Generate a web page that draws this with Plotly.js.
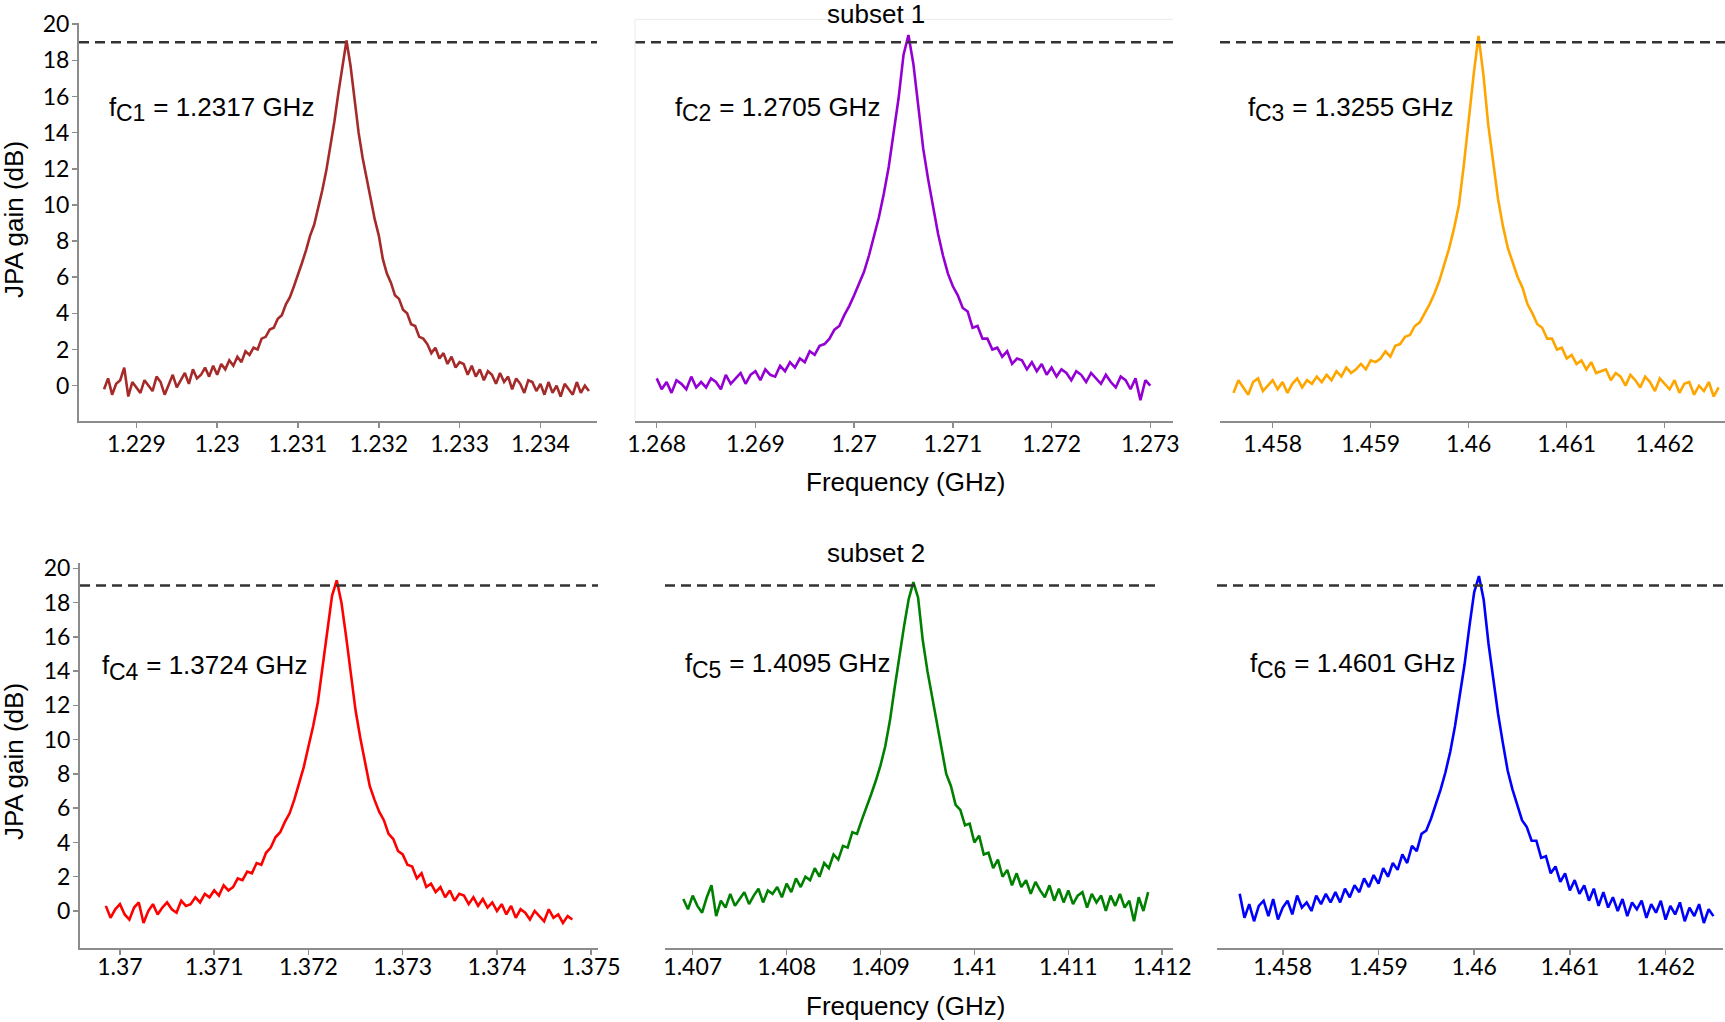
<!DOCTYPE html>
<html>
<head>
<meta charset="utf-8">
<script src="https://cdn.plot.ly/plotly-3.0.1.min.js"></script>
<style>
  html, body { margin: 0; padding: 0; background: #ffffff; }
  #chart { width: 1725px; height: 1022px; }
</style>
</head>
<body>
<div id="chart"></div>
<script>
// JPA gain sweeps (dB), one array per channel, sampled every 50 kHz
const sweepStep = 0.00005;                       // GHz
const sweepStart = [1.2286, 1.268, 1.4576, 1.36985, 1.4069, 1.45755]; // GHz

const gain1 = [
  -0.2, 0.4, -0.5, 0.1, 0.3, 1.0, -0.6, 0.2, -0.1, -0.4,
  0.3, 0.0, -0.3, 0.5, 0.2, -0.5, 0.1, 0.6, -0.1, 0.3,
  0.7, 0.1, 0.9, 0.4, 0.6, 1.0, 0.5, 1.1, 0.6, 1.2,
  0.9, 1.4, 1.1, 1.6, 1.3, 1.9, 1.7, 2.1, 2.0, 2.6,
  2.7, 3.1, 3.2, 3.7, 3.9, 4.5, 4.9, 5.5, 6.1, 6.8,
  7.5, 8.3, 8.9, 9.8, 10.8, 11.9, 13.2, 14.6, 16.2, 17.7,
  19.1, 17.7, 15.8, 14.0, 12.6, 11.4, 10.2, 9.2, 8.3, 7.0,
  6.2, 5.7, 5.0, 4.8, 4.2, 4.0, 3.4, 3.3, 2.7, 2.6,
  2.3, 1.8, 2.1, 1.5, 1.8, 1.2, 1.6, 1.0, 1.3, 1.2,
  0.6, 1.1, 0.5, 0.9, 0.3, 0.8, 0.6, 0.1, 0.7, 0.2,
  0.5, -0.2, 0.4, 0.1, -0.4, 0.3, 0.2, -0.3, 0.1, -0.5,
  0.2, -0.4, 0.0, -0.6, 0.1, -0.2, -0.5, 0.2, -0.4, 0.0, -0.3
];
const gain2 = [
  0.4, -0.2, 0.2, -0.4, 0.3, 0.1, -0.2, 0.5, -0.1, 0.2,
  -0.1, 0.4, 0.2, -0.2, 0.6, 0.1, 0.4, 0.7, 0.1, 0.6,
  0.8, 0.3, 0.9, 0.6, 0.5, 1.1, 0.8, 1.3, 1.0, 1.5,
  1.3, 1.9, 1.7, 2.2, 2.3, 2.6, 3.1, 3.3, 3.9, 4.4,
  5.0, 5.6, 6.3, 7.2, 8.2, 9.3, 10.6, 12.1, 14.0, 15.9,
  18.3, 19.4, 17.8, 15.5, 13.1, 11.4, 9.9, 8.4, 7.2, 6.2,
  5.5, 5.0, 4.3, 4.1, 3.2, 3.3, 2.6, 2.6, 2.0, 2.1,
  1.6, 1.9, 1.2, 1.5, 1.4, 0.9, 1.3, 0.8, 1.2, 0.6,
  1.0, 0.5, 0.9, 0.7, 0.3, 0.8, 0.6, 0.2, 0.7, 0.4,
  0.1, 0.6, 0.2, -0.1, 0.5, 0.3, -0.2, 0.4, -0.8, 0.3, 0.0
];
const gain3 = [
  -0.4, 0.3, -0.1, -0.5, 0.2, 0.4, -0.3, 0.0, 0.3, -0.2,
  0.2, -0.4, 0.1, 0.4, -0.1, 0.3, 0.1, 0.5, 0.2, 0.6,
  0.3, 0.8, 0.5, 1.0, 0.7, 0.9, 1.2, 0.9, 1.4, 1.3,
  1.5, 1.9, 1.6, 2.2, 2.3, 2.7, 2.8, 3.3, 3.5, 4.0,
  4.5, 5.1, 5.8, 6.7, 7.6, 8.7, 10.0, 12.2, 14.8, 17.2,
  19.35, 17.2, 14.4, 12.2, 10.3, 8.8, 7.6, 6.8, 6.0, 5.4,
  4.5, 4.0, 3.4, 3.2, 2.6, 2.6, 2.0, 2.1, 1.5, 1.7,
  1.2, 1.4, 0.9, 1.3, 0.7, 0.8, 0.9, 0.3, 0.7, 0.5,
  0.0, 0.6, 0.3, -0.1, 0.5, 0.2, -0.3, 0.4, 0.1, -0.2,
  0.3, -0.4, 0.1, 0.2, -0.5, 0.0, -0.3, 0.2, -0.6, -0.1
];
const gain4 = [
  0.3, -0.4, 0.1, 0.4, -0.2, -0.5, 0.2, 0.5, -0.7, 0.0,
  0.4, -0.2, 0.2, 0.5, 0.1, -0.1, 0.6, 0.3, 0.4, 0.8,
  0.5, 1.0, 0.8, 1.2, 0.9, 1.5, 1.2, 1.4, 1.9, 1.8,
  2.3, 2.2, 2.8, 2.7, 3.4, 3.7, 4.3, 4.6, 5.2, 5.7,
  6.5, 7.4, 8.4, 9.6, 10.8, 12.2, 14.2, 16.4, 18.4, 19.3,
  18.0, 16.0, 13.9, 11.7, 10.1, 8.7, 7.3, 6.5, 5.8, 5.3,
  4.5, 4.2, 3.5, 3.3, 2.7, 2.6, 1.9, 2.2, 1.4, 1.6,
  1.1, 1.4, 0.8, 1.2, 0.6, 1.0, 0.9, 0.4, 0.8, 0.3,
  0.7, 0.2, 0.5, 0.0, 0.4, -0.2, 0.3, -0.4, 0.1, -0.1,
  -0.5, 0.0, -0.3, -0.6, 0.1, -0.4, -0.2, -0.7, -0.3, -0.5
];
const gain5 = [
  0.7, 0.1, 0.9, 0.3, -0.1, 0.8, 1.5, -0.3, 0.6, 0.2,
  1.0, 0.3, 0.7, 1.1, 0.4, 0.9, 1.3, 0.5, 1.2, 1.0,
  1.4, 0.8, 1.6, 1.1, 1.9, 1.4, 2.0, 1.8, 2.5, 2.0,
  2.8, 2.5, 3.3, 3.0, 3.8, 3.7, 4.6, 4.5, 5.3, 6.0,
  6.8, 7.6, 8.5, 9.6, 11.1, 13.0, 14.9, 16.6, 18.2, 19.2,
  18.3, 15.8, 14.0, 12.5, 11.0, 9.6, 8.0, 7.3, 6.2, 5.9,
  5.0, 5.1, 4.0, 4.4, 3.3, 3.4, 2.5, 3.0, 2.0, 2.4,
  1.5, 2.2, 1.4, 1.8, 1.0, 1.7, 1.2, 0.8, 1.5, 0.6,
  1.3, 0.5, 1.2, 0.4, 0.9, 1.1, 0.2, 1.0, 0.5, 0.9,
  0.0, 0.9, 0.3, 1.0, 0.2, 0.6, -0.6, 0.8, 0.0, 1.1
];
const gain6 = [
  1.0, -0.4, 0.4, -0.6, 0.3, 0.6, -0.3, 0.7, -0.5, 0.2,
  0.6, -0.2, 0.9, 0.2, 0.5, 0.0, 0.9, 0.4, 1.0, 0.5,
  1.1, 0.5, 1.3, 0.8, 1.5, 1.1, 1.9, 1.4, 2.1, 1.6,
  2.5, 2.0, 2.8, 2.4, 3.3, 2.8, 3.8, 3.5, 4.5, 4.7,
  5.4, 6.2, 7.1, 8.1, 9.3, 10.8, 12.5, 14.4, 16.6, 18.6,
  19.55, 18.15, 15.6, 13.5, 11.5, 9.8, 8.2, 7.1, 6.2, 5.3,
  4.9, 4.1, 4.1, 3.1, 3.2, 2.2, 2.6, 1.7, 2.2, 1.2,
  1.8, 1.0, 1.5, 0.6, 1.3, 0.3, 1.1, 0.2, 0.8, 0.0,
  0.7, -0.3, 0.5, 0.1, 0.6, -0.4, 0.4, -0.1, 0.6, -0.5,
  0.3, -0.2, 0.5, -0.6, 0.2, -0.3, 0.4, -0.7, 0.1, -0.3
];

// Reference gain level (dB) drawn as the dashed line
const targetGain = 19;

// Centre frequencies quoted in each panel (GHz)
const centerFreqs = ["1.2317", "1.2705", "1.3255", "1.3724", "1.4095", "1.4601"];
const channelTags = ["C1", "C2", "C3", "C4", "C5", "C6"];

// X tick values and labels for each panel
const tickVals1 = [1.229, 1.230, 1.231, 1.232, 1.233, 1.234];
const tickText1 = ["1.229", "1.23", "1.231", "1.232", "1.233", "1.234"];
const tickVals2 = [1.268, 1.269, 1.270, 1.271, 1.272, 1.273];
const tickText2 = ["1.268", "1.269", "1.27", "1.271", "1.272", "1.273"];
const tickVals3 = [1.458, 1.459, 1.460, 1.461, 1.462];
const tickText3 = ["1.458", "1.459", "1.46", "1.461", "1.462"];
const tickVals4 = [1.370, 1.371, 1.372, 1.373, 1.374, 1.375];
const tickText4 = ["1.37", "1.371", "1.372", "1.373", "1.374", "1.375"];
const tickVals5 = [1.407, 1.408, 1.409, 1.410, 1.411, 1.412];
const tickText5 = ["1.407", "1.408", "1.409", "1.41", "1.411", "1.412"];
const tickVals6 = [1.458, 1.459, 1.460, 1.461, 1.462];
const tickText6 = ["1.458", "1.459", "1.46", "1.461", "1.462"];

// Y ticks (dB)
const yTickVals = [0, 2, 4, 6, 8, 10, 12, 14, 16, 18, 20];
const yTickText = ["0", "2", "4", "6", "8", "10", "12", "14", "16", "18", "20"];

// ---- styling ----
const lineColors = ["#a52a2a", "#9400d3", "#ffa500", "#ff0000", "#008000", "#0000ff"];
const W = 1725, H = 1022;
const px = v => v / W;           // horizontal pixel -> paper fraction
const py = v => 1 - v / H;       // vertical pixel (from top) -> paper fraction

const gains = [gain1, gain2, gain3, gain4, gain5, gain6];
const tickVals = [tickVals1, tickVals2, tickVals3, tickVals4, tickVals5, tickVals6];
const tickText = [tickText1, tickText2, tickText3, tickText4, tickText5, tickText6];

// panel frames in pixels: [left, right] and x ranges (GHz)
const xDomainsPx = [[79, 597], [635, 1173], [1220, 1725], [80, 598], [665, 1173], [1217, 1723]];
const xRanges = [
  [1.22829, 1.2347], [1.26778, 1.27323], [1.457462, 1.462615],
  [1.369576, 1.375072], [1.406705, 1.412115], [1.457313, 1.4626]
];
const topRowY = [py(420.7), py(23.3)];
const botRowY = [py(948), py(562.7)];
const topYRange = [-1.94, 20.05];
const botYRange = [-2.16, 20.33];

const axisGray = "#8c8c8c";
const tickFont = { family: "Lato, 'Open Sans', sans-serif", size: 23, color: "#000000" };
const sansFamily = "'Liberation Sans', Arial, sans-serif";
const textFont = { family: sansFamily, size: 26, color: "#000000" };

const traces = gains.map((g, k) => ({
  type: "scatter",
  mode: "lines",
  x: g.map((_, i) => +(sweepStart[k] + i * sweepStep).toFixed(6)),
  y: g,
  xaxis: "x" + (k === 0 ? "" : k + 1),
  yaxis: "y" + (k === 0 ? "" : k + 1),
  line: { color: lineColors[k], width: 2.6 },
  hoverinfo: "skip",
  showlegend: false
}));

const layout = {
  width: W, height: H,
  margin: { l: 0, r: 0, t: 0, b: 0 },
  paper_bgcolor: "#ffffff",
  plot_bgcolor: "rgba(0,0,0,0)",
  showlegend: false,
  annotations: [],
  shapes: []
};

for (let k = 0; k < 6; k++) {
  const sfx = k === 0 ? "" : String(k + 1);
  const top = k < 3;
  layout["xaxis" + sfx] = {
    domain: [px(xDomainsPx[k][0]), px(xDomainsPx[k][1])],
    range: xRanges[k],
    anchor: "y" + sfx,
    tickmode: "array",
    tickvals: tickVals[k],
    ticktext: tickText[k],
    ticks: "outside",
    ticklen: 5,
    tickwidth: 1.5,
    tickcolor: axisGray,
    ticklabelstandoff: top ? -3 : -8,
    showline: true,
    linecolor: axisGray,
    linewidth: 2,
    showgrid: false,
    zeroline: false,
    tickfont: tickFont,
    fixedrange: true
  };
  const hasY = (k === 0 || k === 3);
  layout["yaxis" + sfx] = {
    domain: top ? topRowY : botRowY,
    range: top ? topYRange : botYRange,
    anchor: "x" + sfx,
    visible: hasY,
    tickmode: "array",
    tickvals: yTickVals,
    ticktext: yTickText,
    ticks: "outside",
    ticklen: 5,
    tickwidth: 1.5,
    tickcolor: axisGray,
    ticklabelstandoff: -2,
    showline: true,
    linecolor: axisGray,
    linewidth: 2,
    showgrid: false,
    zeroline: false,
    tickfont: tickFont,
    fixedrange: true
  };

  // dashed target-gain line across the panel
  layout.shapes.push({
    type: "line",
    xref: "x" + sfx + " domain", yref: "y" + sfx,
    x0: 0, x1: k === 4 ? 0.97 : 1, y0: targetGain, y1: targetGain,
    line: { color: "#333333", width: 2.6, dash: "10px,6px" }
  });
}

// faint frame on the middle top panel
layout.shapes.push(
  { type: "line", xref: "x2 domain", yref: "y2 domain", x0: 0, x1: 0, y0: 0, y1: 1.01,
    line: { color: "#ebebeb", width: 1 } },
  { type: "line", xref: "x2 domain", yref: "y2 domain", x0: 0, x1: 1, y0: 1.01, y1: 1.01,
    line: { color: "#ebebeb", width: 1 } }
);

// centre-frequency labels: "f", lowered channel tag, then " = value GHz"
const fcPos = [[107, 107], [673, 107], [1246, 107], [100, 665], [683, 663], [1248, 663]];
const fWidth = 7.2;        // advance of "f" at 26 px
const tagWidth = 29.4;     // advance of the channel tag at 23 px
const tagDrop = 6.5;       // baseline drop of the tag
centerFreqs.forEach((f, k) => {
  const [x0, y0] = fcPos[k];
  const piece = (text, x, y, size) => ({
    xref: "paper", yref: "paper", x: px(x), y: py(y),
    xanchor: "left", yanchor: "middle", showarrow: false,
    text: text, font: { family: sansFamily, size: size, color: "#000000" }
  });
  layout.annotations.push(
    piece("f", x0, y0, 26),
    piece(channelTags[k], x0 + fWidth, y0 + tagDrop, 23),
    piece("\u00a0= " + f + " GHz", x0 + fWidth + tagWidth, y0, 26)
  );
});

// row titles, axis titles
const plainText = (text, x, y, angle) => ({
  xref: "paper", yref: "paper", x: px(x), y: py(y),
  xanchor: "center", yanchor: "middle", showarrow: false,
  text: text, textangle: angle || 0, font: textFont
});
layout.annotations.push(
  plainText("subset 1", 876, 14),
  plainText("Frequency (GHz)", 905, 482),
  plainText("subset 2", 876, 553),
  plainText("Frequency (GHz)", 905, 1006),
  plainText("JPA gain (dB)", 14, 220, -90),
  plainText("JPA gain (dB)", 14, 762, -90)
);

Plotly.newPlot("chart", traces, layout, { staticPlot: true, displayModeBar: false });
</script>
</body>
</html>
